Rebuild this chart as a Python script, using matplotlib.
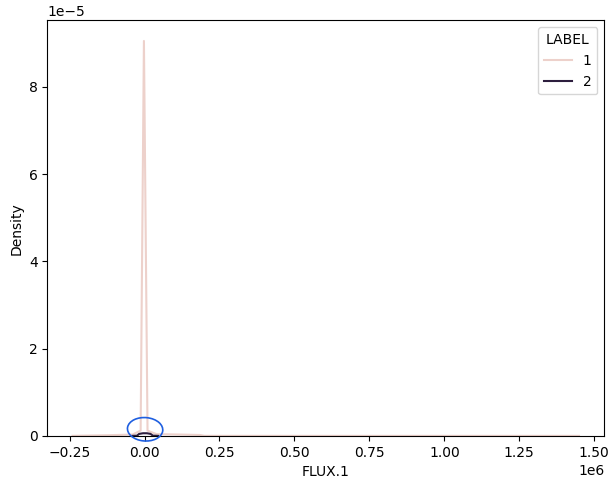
import matplotlib.pyplot as plt
from matplotlib.patches import Ellipse
import seaborn as sns

# KDE curves (FLUX.1 values, density)
label_1_x = [-240000, -120000, -40000, -13000, -2000, 10000, 40000, 120000, 185000, 200000, 600000, 1000000, 1449000]
label_1_y = [1e-8, 1.5e-7, 3e-7, 1.2e-6, 9.05e-5, 1.2e-6, 4e-7, 3e-7, 2e-7, 1e-8, 0.0, 0.0, 0.0]

label_2_x = [-40000, -25000, -18000, -5000, 8000, 20000, 28000, 45000]
label_2_y = [0.0, 5e-8, 4.5e-7, 6e-7, 6e-7, 4.5e-7, 5e-8, 0.0]

hue_levels = ['1', '2']

cmap = sns.cubehelix_palette(as_cmap=True)
colors = [cmap(0.0), cmap(1.0)]

fig = plt.figure(figsize=(6.11, 4.87), dpi=100)
ax = fig.add_axes([0.0774, 0.105, 0.9116, 0.853])

ax.plot(label_1_x, label_1_y, color=colors[0], lw=1.5, label=hue_levels[0])
ax.plot(label_2_x, label_2_y, color=colors[1], lw=1.5, label=hue_levels[1])

ax.set_xlim(-324300, 1533400)
ax.set_ylim(0, 9.52e-5)
ax.set_xlabel("FLUX.1")
ax.set_ylabel("Density")
ax.legend(title="LABEL", loc="upper right")

# blue hand-drawn mark around the origin
mark = Ellipse((0.2375, 0.1185), 0.058, 0.048, angle=-8, transform=fig.transFigure,
               fill=False, edgecolor='#1f5fe0', lw=1.2, clip_on=False)
fig.add_artist(mark)

fig.savefig("out.png", dpi=100)
